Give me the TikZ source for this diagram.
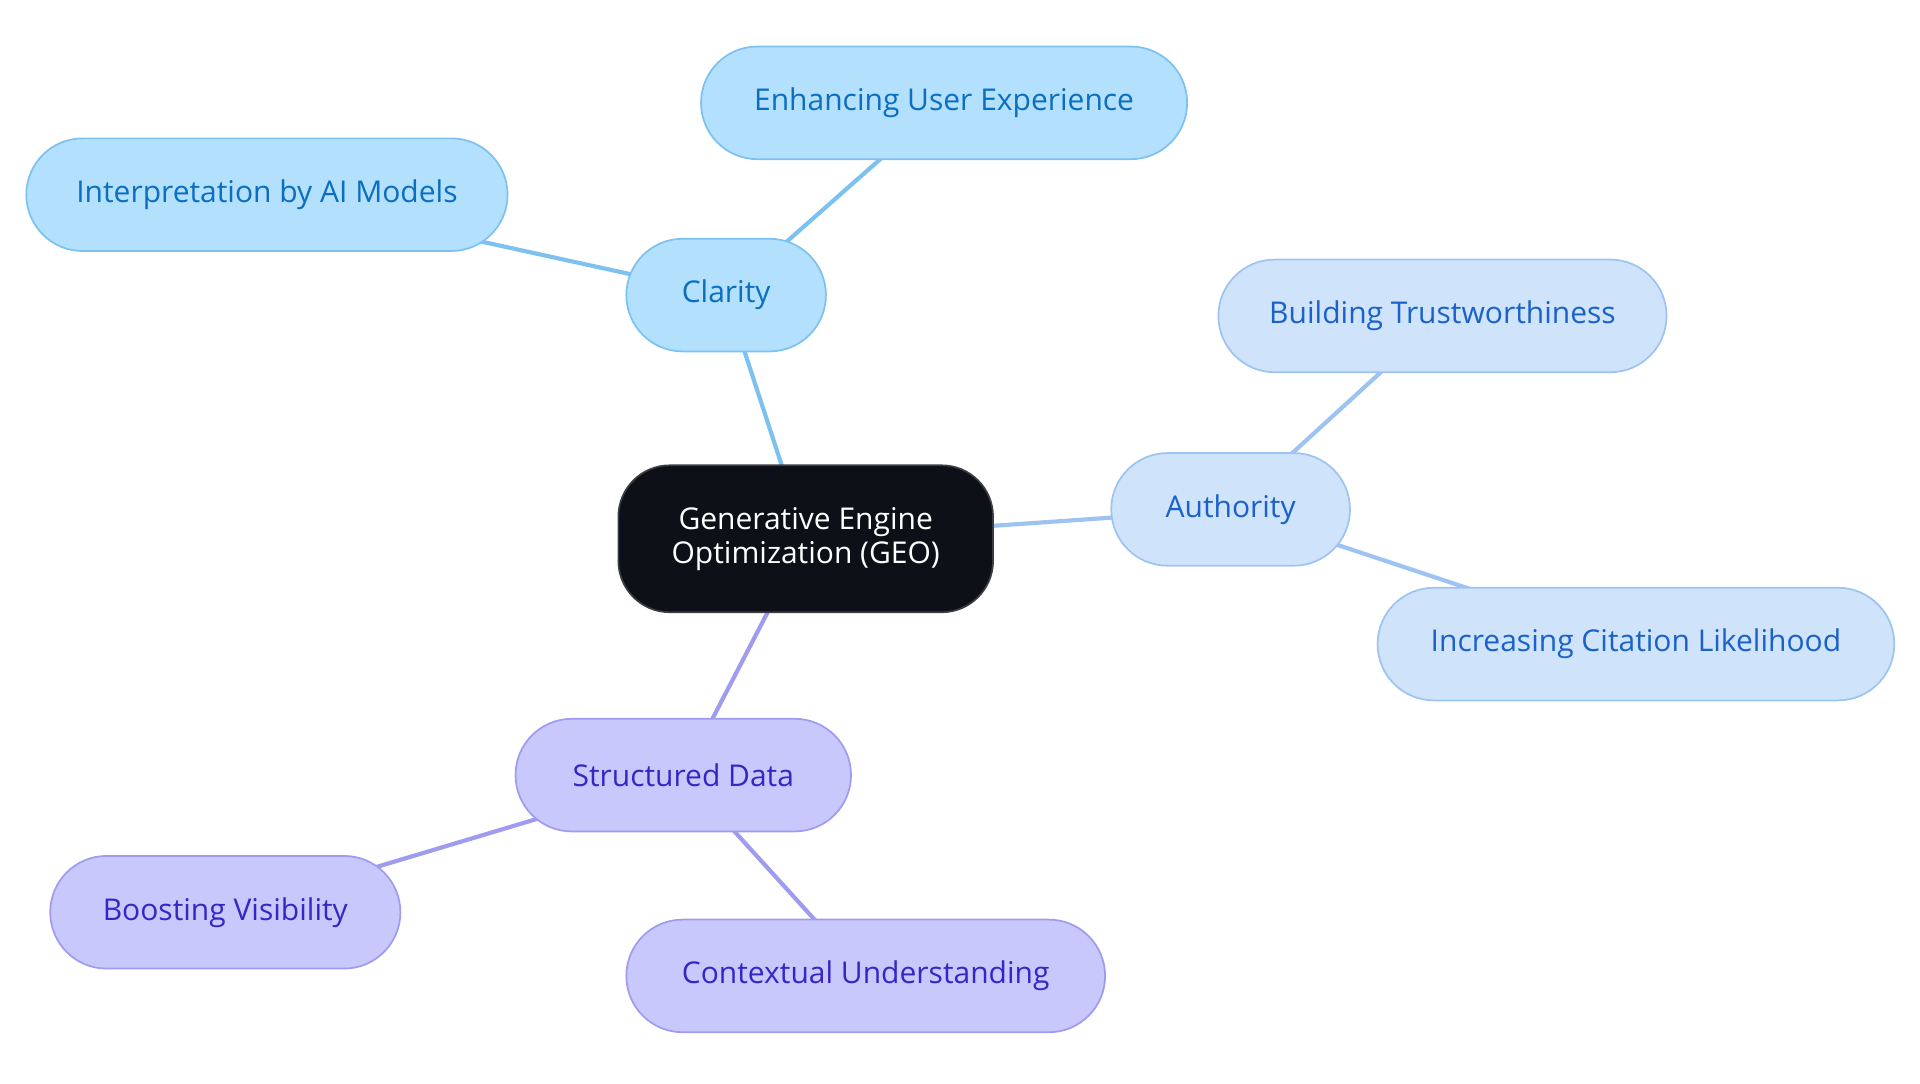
\documentclass[tikz,border=0pt]{standalone}
\usepackage{fontspec}
\setmainfont{Open Sans}
\usetikzlibrary{backgrounds}
\definecolor{cfill}{HTML}{B3E0FD}
\definecolor{cdraw}{HTML}{7DC1F0}
\definecolor{ctext}{HTML}{0B6EBF}
\definecolor{afill}{HTML}{CFE3FB}
\definecolor{adraw}{HTML}{9CC3F2}
\definecolor{atext}{HTML}{1A62C8}
\definecolor{sfill}{HTML}{C8C8FD}
\definecolor{sdraw}{HTML}{9F9BEE}
\definecolor{stext}{HTML}{3527C4}
\definecolor{gfill}{HTML}{0D1117}
\definecolor{gdraw}{HTML}{3A3D42}
\begin{document}
\begin{tikzpicture}[x=1pt,y=-1pt,
  every node/.style={font=\fontsize{24.5}{28}\selectfont, inner sep=0pt},
  pill/.style={rectangle, rounded corners=46pt, minimum height=92pt, line width=1.4pt},
  cnode/.style={pill, fill=cfill, draw=cdraw, text=ctext},
  anode/.style={pill, fill=afill, draw=adraw, text=atext},
  snode/.style={pill, fill=sfill, draw=sdraw, text=stext},
  gnode/.style={rectangle, rounded corners=42pt, minimum width=306pt, minimum height=120pt, fill=gfill, draw=gdraw, line width=1.4pt, text=white, align=center},
  cedge/.style={draw=cdraw, line width=3.4pt},
  aedge/.style={draw=adraw, line width=3.4pt},
  sedge/.style={draw=sdraw, line width=3.4pt}]
\useasboundingbox (0,0) rectangle (1568,885);
\node[gnode] (geo) at (658,440) {Generative Engine\\Optimization (GEO)};
\node[cnode, minimum width=163pt] (cla) at (593,241) {Clarity};
\node[cnode, minimum width=397pt] (enh) at (771,84) {Enhancing User Experience};
\node[cnode, minimum width=393pt] (int) at (218,159) {Interpretation by AI Models};
\node[anode, minimum width=195pt] (aut) at (1005,416) {Authority};
\node[anode, minimum width=366pt] (bui) at (1178,258) {Building Trustworthiness};
\node[anode, minimum width=422pt] (inc) at (1336,526) {Increasing Citation Likelihood};
\node[snode, minimum width=274pt] (str) at (558,633) {Structured Data};
\node[snode, minimum width=286pt] (boo) at (184,745) {Boosting Visibility};
\node[snode, minimum width=391pt] (con) at (707,797) {Contextual Understanding};
\begin{pgfonlayer}{background}
\draw[cedge] (geo.center) -- (cla.center);
\draw[cedge] (cla.center) -- (enh.center);
\draw[cedge] (cla.center) -- (int.center);
\draw[aedge] (geo.center) -- (aut.center);
\draw[aedge] (aut.center) -- (bui.center);
\draw[aedge] (aut.center) -- (inc.center);
\draw[sedge] (geo.center) -- (str.center);
\draw[sedge] (str.center) -- (boo.center);
\draw[sedge] (str.center) -- (con.center);
\end{pgfonlayer}
\end{tikzpicture}
\end{document}
